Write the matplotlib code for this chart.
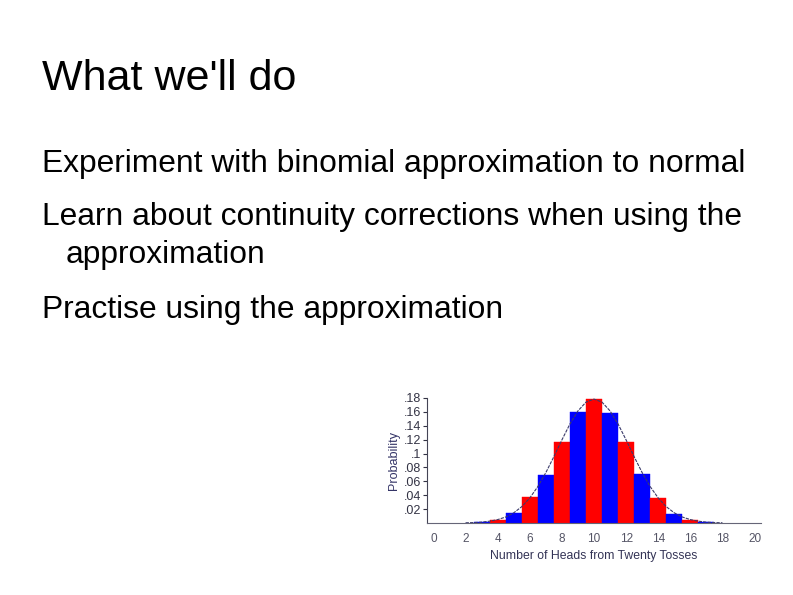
import matplotlib.pyplot as plt

plt.rcParams['font.family'] = ['Liberation Sans', 'DejaVu Sans']

# Texte de la diapo
titre = "What we'll do"
puces = ["Experiment with binomial approximation to normal",
         "Learn about continuity corrections when using the",
         "approximation",
         "Practise using the approximation"]

# Barres : nombre de faces sur 20 lancers
faces = [3, 4, 5, 6, 7, 8, 9, 10, 11, 12, 13, 14, 15, 16, 17]
proba = [0.001, 0.005, 0.014, 0.037, 0.069, 0.116, 0.160, 0.178,
         0.159, 0.116, 0.071, 0.036, 0.013, 0.005, 0.001]
couleurs = ['#0000ff', '#ff0000'] * 8

# Courbe normale
courbe_x = [2, 2.5, 3, 3.5, 4, 4.5, 5, 5.5, 6, 6.5, 7, 7.5, 8, 8.5, 9, 9.5, 10,
            10.5, 11, 11.5, 12, 12.5, 13, 13.5, 14, 14.5, 15, 15.5, 16, 16.5, 17, 17.5, 18]
courbe_y = [0.0003, 0.0006, 0.0013, 0.0026, 0.0049, 0.0086, 0.0146, 0.0235, 0.036,
            0.0524, 0.0725, 0.0955, 0.1196, 0.1425, 0.1614, 0.174, 0.1784,
            0.174, 0.1614, 0.1425, 0.1196, 0.0955, 0.0725, 0.0524, 0.036,
            0.0235, 0.0146, 0.0086, 0.0049, 0.0026, 0.0013, 0.0006, 0.0003]

yticks = [0.02, 0.04, 0.06, 0.08, 0.10, 0.12, 0.14, 0.16, 0.18]
ylabels = ['.02', '.04', '.06', '.08', '.1', '.12', '.14', '.16', '.18']
xticks = [0, 2, 4, 6, 8, 10, 12, 14, 16, 18, 20]

fig = plt.figure(figsize=(7.93, 5.95), dpi=100)
H = 595

fig.text(42 / 793, 1 - 90 / H, titre, fontsize=31, va='baseline', ha='left')
fig.text(42 / 793, 1 - 172 / H, puces[0], fontsize=22.9, va='baseline')
fig.text(42 / 793, 1 - 225 / H, puces[1], fontsize=22.9, va='baseline')
fig.text(66 / 793, 1 - 263 / H, puces[2], fontsize=22.9, va='baseline')
fig.text(42 / 793, 1 - 318 / H, puces[3], fontsize=22.9, va='baseline')

ax = fig.add_axes([427 / 793, 72 / H, 334 / 793, 125 / H])
ax.bar(faces, proba, width=1.0, color=couleurs[:len(faces)], edgecolor=couleurs[:len(faces)], linewidth=0.3)
ax.plot(courbe_x, courbe_y, color='#3a3a6a', lw=0.8, dashes=(3, 1))

ax.set_xlim(-0.4, 20.4)
ax.set_ylim(0, 0.18)
ax.set_yticks(yticks)
ax.set_yticklabels(ylabels)
ax.set_xticks(xticks)
ax.tick_params(axis='y', length=3, width=0.8, labelsize=9, colors='#333344', pad=1)
ax.tick_params(axis='x', length=0, labelsize=8.5, colors='#555566', pad=7)
for s in ['top', 'right']:
    ax.spines[s].set_visible(False)
ax.spines['left'].set_color('#444455')
ax.spines['bottom'].set_color('#666677')
ax.set_ylabel('Probability', fontsize=9, color='#333366', labelpad=3)
ax.set_xlabel('Number of Heads from Twenty Tosses', fontsize=8.8, color='#333355', labelpad=4)

fig.savefig('out.png', dpi=100)
